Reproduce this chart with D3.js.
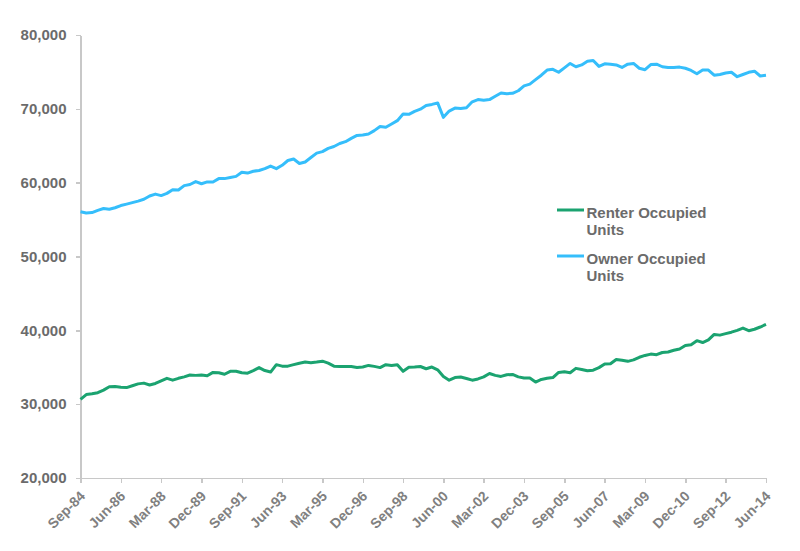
<!DOCTYPE html>
<html lang="en">
<head>
<meta charset="UTF-8">
<title>Renter vs Owner Occupied Units</title>
<script src="https://d3js.org/d3.v7.min.js"></script>
<style>
    body { margin: 0; background: #fff; }
    svg { display: block; font-family: "Liberation Sans", Arial, sans-serif; }
    .axis path, .axis line { stroke: #c8c8c8; stroke-width: 1.5px; shape-rendering: crispEdges; }
    .y-axis text { font-size: 15px; font-weight: bold; fill: #6b6b6b; }
    .x-axis text { font-size: 14px; font-weight: bold; fill: #808080; }
    .line { fill: none; stroke-width: 3px; stroke-linejoin: round; }
    .legend text { font-size: 15px; font-weight: bold; fill: #6b6b6b; }
</style>
</head>
<body>
<div id="chart"></div>
<script>
    // --- Data (quarterly, Sep-84 .. Jun-14, thousands of units) ---
    const startYear = 1984, startMonth = 8; // Sep (0-based month)
    const monthNames = ["Jan","Feb","Mar","Apr","May","Jun","Jul","Aug","Sep","Oct","Nov","Dec"];

    const tickLabels = ["Sep-84","Jun-86","Mar-88","Dec-89","Sep-91","Jun-93","Mar-95","Dec-96","Sep-98",
        "Jun-00","Mar-02","Dec-03","Sep-05","Jun-07","Mar-09","Dec-10","Sep-12","Jun-14"];

    const yTicks = [20000, 30000, 40000, 50000, 60000, 70000, 80000];

    const ownerOccupied = [
        56050, 55900, 55950, 56250, 56500, 56400, 56600, 56900, 57100, 57300,
        57500, 57750, 58200, 58450, 58250, 58550, 59050, 59000, 59600, 59750,
        60150, 59850, 60100, 60100, 60550, 60550, 60700, 60850, 61400, 61300,
        61550, 61650, 61900, 62250, 61900, 62350, 63000, 63200, 62600, 62800,
        63400, 64000, 64200, 64650, 64900, 65300, 65550, 66000, 66400, 66450,
        66600, 67050, 67600, 67500, 67950, 68400, 69300, 69250, 69650, 69950,
        70450, 70600, 70800, 68850, 69700, 70100, 70050, 70150, 70950, 71250,
        71150, 71250, 71700, 72150, 72050, 72100, 72450, 73100, 73350, 73950,
        74550, 75250, 75350, 74950, 75550, 76150, 75700, 75950, 76450, 76550,
        75750, 76100, 76050, 75950, 75600, 76050, 76150, 75500, 75300, 76000,
        76050, 75700, 75600, 75600, 75650, 75500, 75200, 74750, 75250, 75250,
        74550, 74650, 74850, 74950, 74350, 74650, 74950, 75100, 74450, 74550
    ];

    const renterOccupied = [
        30650, 31300, 31400, 31550, 31900, 32350, 32400, 32300, 32250, 32500,
        32750, 32850, 32600, 32800, 33150, 33500, 33250, 33500, 33700, 33950,
        33900, 33950, 33850, 34300, 34250, 34050, 34450, 34450, 34250, 34200,
        34550, 34950, 34550, 34350, 35350, 35150, 35150, 35350, 35550, 35700,
        35620, 35700, 35820, 35550, 35150, 35100, 35100, 35100, 34980, 35030,
        35250, 35120, 34950, 35350, 35250, 35350, 34450, 35000, 35030, 35100,
        34800, 35030, 34650, 33750, 33250, 33600, 33680, 33480, 33250, 33420,
        33700, 34150, 33900, 33760, 33980, 34030, 33700, 33550, 33530, 33000,
        33350, 33500, 33600, 34300, 34380, 34250, 34850, 34700, 34520, 34600,
        34950, 35450, 35480, 36050, 35950, 35800, 36000, 36350, 36600, 36780,
        36700, 37000, 37060, 37300, 37480, 37950, 38060, 38600, 38350, 38700,
        39450, 39350, 39550, 39750, 40000, 40300, 39950, 40150, 40450, 40800
    ];

    // quarter category labels, e.g. "Sep-84"
    const quarters = ownerOccupied.map((_, i) => {
        const m = startMonth + i * 3;
        const yr = startYear + Math.floor(m / 12);
        return monthNames[m % 12] + "-" + String(yr % 100).padStart(2, "0");
    });

    const series = [
        { name: ["Renter Occupied", "Units"], values: renterOccupied, color: "#1ba370" },
        { name: ["Owner Occupied", "Units"], values: ownerOccupied, color: "#35befb" }
    ];

    // --- Chart setup ---
    const W = 800, H = 551;
    const margin = { top: 35, right: 34, bottom: 73, left: 80.5 };

    const svg = d3.select("#chart").append("svg")
        .attr("width", W).attr("height", H);

    const x = d3.scalePoint().domain(quarters).range([margin.left, W - margin.right]);
    const y = d3.scaleLinear().domain([20000, 80000]).range([H - margin.bottom, margin.top]);

    // Y axis
    const yAxis = svg.append("g").attr("class", "axis y-axis")
        .attr("transform", `translate(${margin.left},0)`)
        .call(d3.axisLeft(y).tickValues(yTicks).tickFormat(d3.format(",")).tickSize(5).tickSizeOuter(0).tickPadding(9));

    // X axis
    const xAxis = svg.append("g").attr("class", "axis x-axis")
        .attr("transform", `translate(0,${H - margin.bottom})`)
        .call(d3.axisBottom(x).tickValues(tickLabels).tickSize(5).tickSizeOuter(0));
    xAxis.selectAll(".tick text")
        .attr("text-anchor", "end")
        .attr("dy", null)
        .attr("y", null)
        .attr("transform", "translate(5,19) rotate(-45)");

    // Lines
    const line = d3.line()
        .x((d, i) => x(quarters[i]))
        .y(d => y(d));

    svg.selectAll(".line")
        .data(series)
        .join("path")
        .attr("class", "line")
        .attr("stroke", d => d.color)
        .attr("d", d => line(d.values));

    // Legend
    const legend = svg.append("g").attr("class", "legend")
        .attr("transform", "translate(557,210)");
    const items = legend.selectAll("g")
        .data(series)
        .join("g")
        .attr("transform", (d, i) => `translate(0,${i * 46})`);
    items.append("line")
        .attr("x1", 0).attr("x2", 27)
        .attr("stroke", d => d.color)
        .attr("stroke-width", 3);
    items.append("text")
        .attr("x", 29.5).attr("y", 8)
        .selectAll("tspan")
        .data(d => d.name)
        .join("tspan")
        .attr("x", 29.5)
        .attr("dy", (d, i) => i === 0 ? 0 : 17)
        .text(d => d);
</script>
</body>
</html>
